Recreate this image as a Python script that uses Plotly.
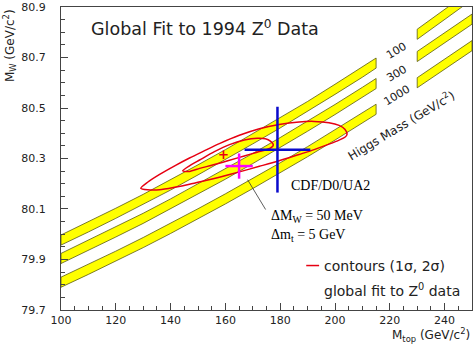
import plotly.graph_objects as go

# ---------------- data ----------------
higgs_labels = ["100", "300", "1000"]
mtop_left = [100, 110, 120, 130, 140, 150, 160, 170, 180, 190, 200, 210, 215]
mtop_right = [230, 240, 250]
mw_h100_left = [79.977, 80.029, 80.083, 80.138, 80.195, 80.255, 80.315, 80.378, 80.441, 80.506, 80.574, 80.642, 80.678]
mw_h100_right = [80.792, 80.870, 80.949]
mw_h300_left = [79.904, 79.956, 80.009, 80.063, 80.120, 80.179, 80.238, 80.300, 80.363, 80.428, 80.494, 80.562, 80.597]
mw_h300_right = [80.704, 80.777, 80.852]
mw_h1000_left = [79.810, 79.861, 79.913, 79.967, 80.023, 80.081, 80.140, 80.201, 80.263, 80.327, 80.393, 80.460, 80.495]
mw_h1000_right = [80.600, 80.673, 80.747]
band_halfwidth = 0.02

# 2 sigma contour (upper arc left->right, then lower arc right->left)
c2_mtop = [129.1, 131.6, 136.0, 141.5, 146.9, 152.4, 157.8, 165.1, 172.4, 179.6, 186.9, 192.4, 197.8, 201.5, 203.6, 204.4,
           203.6, 201.5, 197.8, 192.4, 186.9, 179.6, 172.4, 165.1, 157.8, 152.4, 146.9, 141.5, 136.0, 131.6, 129.1]
c2_mw = [80.182, 80.206, 80.237, 80.271, 80.302, 80.331, 80.359, 80.392, 80.418, 80.435, 80.445, 80.447, 80.442, 80.431, 80.416, 80.396,
         80.384, 80.373, 80.357, 80.335, 80.316, 80.291, 80.269, 80.247, 80.226, 80.212, 80.198, 80.186, 80.176, 80.176, 80.182]
# 1 sigma contour
c1_mtop = [144.4, 146.9, 150.6, 156.0, 161.5, 166.9, 171.6, 174.6, 176.4, 177.5,
           176.4, 174.6, 171.6, 166.9, 161.5, 156.0, 150.6, 146.9, 144.4]
c1_mw = [80.251, 80.271, 80.294, 80.327, 80.355, 80.373, 80.380, 80.378, 80.369, 80.353,
         80.341, 80.334, 80.325, 80.310, 80.293, 80.276, 80.261, 80.249, 80.251]

best_fit_mtop, best_fit_mw = [159.3], [80.315]
future_mtop, future_mw, future_dmt, future_dmw = [165.0], [80.27], 5.0, 0.05
cdf_mtop, cdf_mw, cdf_dmt, cdf_dmw = [179.0], [80.335], 12.0, 0.17

x_tick_vals = [100, 120, 140, 160, 180, 200, 220, 240]
y_tick_vals = [79.7, 79.9, 80.1, 80.3, 80.5, 80.7, 80.9]
y_tick_text = ["79.7", "79.9", "80.1", "80.3", "80.5", "80.7", "80.9"]

# ---------------- figure ----------------
SANS = "DejaVu Sans"
SERIF = "Liberation Serif"
INK = "#222222"
AX = "#444444"
RED = "#e60012"

fig = go.Figure()


def band_polygon(xs, centers):
    up = [c + band_halfwidth for c in centers]
    lo = [c - band_halfwidth for c in centers]
    return xs + xs[::-1] + [xs[0]], up + lo[::-1] + [up[0]]


for left, right in [(mw_h100_left, mw_h100_right), (mw_h300_left, mw_h300_right), (mw_h1000_left, mw_h1000_right)]:
    xa, ya = band_polygon(mtop_left, left)
    xb, yb = band_polygon(mtop_right, right)
    fig.add_trace(go.Scatter(x=xa + [None] + xb, y=ya + [None] + yb, mode="lines", fill="toself",
                             fillcolor="#ffff00", line=dict(color="#5a5a10", width=0.8),
                             hoverinfo="skip", showlegend=False))

for xs, ys in [(c2_mtop, c2_mw), (c1_mtop, c1_mw)]:
    fig.add_trace(go.Scatter(x=xs, y=ys, mode="lines", line=dict(color=RED, width=1.5, shape="spline", smoothing=0.7),
                             hoverinfo="skip", showlegend=False))

fig.add_trace(go.Scatter(x=best_fit_mtop, y=best_fit_mw, mode="markers",
                         marker=dict(symbol="cross-thin", size=6, line=dict(color=RED, width=1.6)),
                         showlegend=False))

fig.add_trace(go.Scatter(x=future_mtop, y=future_mw, mode="markers",
                         marker=dict(size=1, color="#ff00ff"),
                         error_x=dict(type="constant", value=future_dmt, width=0, thickness=2.5, color="#ff00ff"),
                         error_y=dict(type="constant", value=future_dmw, width=0, thickness=2.5, color="#ff00ff"),
                         showlegend=False))

fig.add_trace(go.Scatter(x=cdf_mtop, y=cdf_mw, mode="markers",
                         marker=dict(size=1, color="#0a0acc"),
                         error_x=dict(type="constant", value=cdf_dmt, width=0, thickness=2.5, color="#0a0acc"),
                         error_y=dict(type="constant", value=cdf_dmw, width=0, thickness=2.5, color="#0a0acc"),
                         showlegend=False))

# legend sample line
fig.add_trace(go.Scatter(x=[189.5, 194.2], y=[79.876, 79.876], mode="lines",
                         line=dict(color=RED, width=1.5), showlegend=False, hoverinfo="skip"))

ann = []
ann.append(dict(x=110.2, y=80.818, text="Global Fit to 1994 Z<sup>0</sup> Data", xanchor="left", yanchor="middle",
                font=dict(family=SANS, size=17.5, color=INK)))
for lab, yy in zip(higgs_labels, [80.726, 80.637, 80.550]):
    ann.append(dict(x=222.6, y=yy, text=lab, textangle=-31, xanchor="center", yanchor="middle",
                    font=dict(family=SANS, size=11, color=INK)))
ann.append(dict(x=224.0, y=80.432, text="Higgs Mass (GeV/c<sup>2</sup>)", textangle=-31, xanchor="center",
                yanchor="middle", font=dict(family=SANS, size=12, color=INK)))
ann.append(dict(x=183.3, y=80.194, text="CDF/D0/UA2", xanchor="left", yanchor="middle",
                font=dict(family=SERIF, size=14, color="#000000")))
ann.append(dict(x=175.8, y=80.070, text="ΔM<sub>W</sub> = 50 MeV", xanchor="left", yanchor="middle",
                font=dict(family=SERIF, size=14, color="#000000")))
ann.append(dict(x=175.8, y=79.995, text="Δm<sub>t</sub> = 5 GeV", xanchor="left", yanchor="middle",
                font=dict(family=SERIF, size=14, color="#000000")))
ann.append(dict(x=195.3, y=79.876, text="contours (1σ, 2σ)", xanchor="left", yanchor="middle",
                font=dict(family=SANS, size=14, color=INK)))
ann.append(dict(x=195.3, y=79.778, text="global fit to Z<sup>0</sup> data", xanchor="left", yanchor="middle",
                font=dict(family=SANS, size=14, color=INK)))
# leader line
ann.append(dict(x=168.1, y=80.216, ax=175.0, ay=80.092, axref="x", ayref="y", text="", showarrow=True,
                arrowhead=0, arrowwidth=0.8, arrowcolor="#333333"))
for a in ann:
    a.setdefault("showarrow", False)
    a.setdefault("xref", "x")
    a.setdefault("yref", "y")
# axis titles (paper coordinates, outside the plot area)
ann.append(dict(x=1.0, y=-0.082, xref="paper", yref="paper", text="M<sub>top</sub> (GeV/c<sup>2</sup>)",
                xanchor="right", yanchor="middle", showarrow=False, font=dict(family=SANS, size=12, color=INK)))
ann.append(dict(x=-0.124, y=0.871, xref="paper", yref="paper", text="M<sub>W</sub> (GeV/c<sup>2</sup>)",
                textangle=-90, xanchor="center", yanchor="middle", showarrow=False,
                font=dict(family=SANS, size=12, color=INK)))
fig.update_layout(annotations=ann)

fig.update_layout(
    width=474, height=345,
    margin=dict(l=61, r=1, t=4, b=35),
    paper_bgcolor="white", plot_bgcolor="white",
    xaxis=dict(range=[100, 250], tickvals=x_tick_vals, ticks="inside", ticklen=7, tickcolor=AX,
               showline=True, linecolor=AX, linewidth=1, mirror=True, showgrid=False, zeroline=False,
               ticklabeloverflow="allow", tickfont=dict(family=SANS, size=11, color=INK),
               minor=dict(dtick=5, tick0=100, ticks="inside", ticklen=4, tickcolor=AX)),
    yaxis=dict(range=[79.6999, 80.9001], tickvals=y_tick_vals, ticktext=y_tick_text, ticks="inside", ticklen=7,
               tickcolor=AX, showline=True, linecolor=AX, linewidth=1, mirror=True, showgrid=False,
               zeroline=False, ticklabelstandoff=12, ticklabeloverflow="allow",
               tickfont=dict(family=SANS, size=11, color=INK),
               minor=dict(dtick=0.05, tick0=79.7, ticks="inside", ticklen=4, tickcolor=AX)),
    showlegend=False,
)

fig.write_html("out.html")
